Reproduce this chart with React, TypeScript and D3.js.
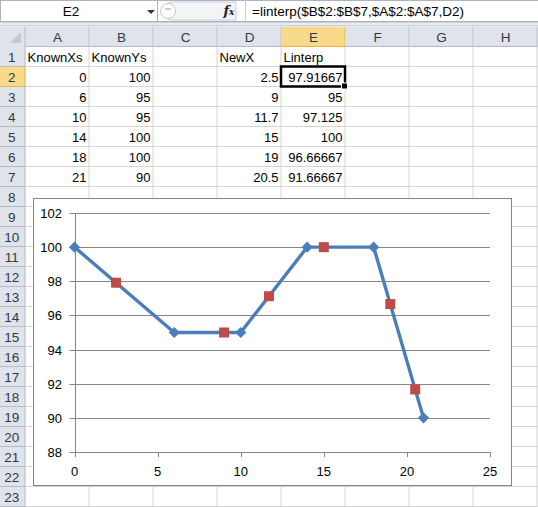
import * as React from 'react';
import * as d3 from 'd3';

const knownXs = [0, 6, 10, 14, 18, 21];
const knownYs = [100, 95, 95, 100, 100, 90];
const newXs = [2.5, 9, 11.7, 15, 19, 20.5];
const linterp = ['97.91667', '95', '97.125', '100', '96.66667', '91.66667'];

const colNames = ['A', 'B', 'C', 'D', 'E', 'F', 'G', 'H'];
const rowCount = 23;
const headerRow = ['KnownXs', 'KnownYs', '', 'NewX', 'Linterp'];
const yTicks = [88, 90, 92, 94, 96, 98, 100, 102];
const xTicks = [0, 5, 10, 15, 20, 25];

const W = 538;
const H = 507;
const FONT = '"Liberation Sans", Arial, sans-serif';

// sheet geometry
const rowHdrW = 25.5;
const colW = 64;
const colTop = 27;
const rowTop = 47;
const rowH = 20;

const colX = d3.scaleLinear().domain([0, colNames.length]).range([rowHdrW, rowHdrW + colW * colNames.length]);
const rowY = (r: number) => rowTop + (r - 1) * rowH;

// chart geometry
const chartBox = {x: 33.5, y: 198.5, w: 478, h: 287};
const x = d3.scaleLinear().domain([0, 25]).range([74.5, 490]);
const y = d3.scaleLinear().domain([88, 102]).range([452, 213]);

const gridCol = '#d4d4d4';
const hdrFill = '#e0e4ea';
const hdrLine = '#b6bcc6';
const selFill = '#f9da8a';
const selLine = '#e9b44c';
const hdrText = '#2a3a4a';

export default function App() {
  const blue = '#4a7ebb';
  const red = '#be4b48';
  const line = d3.line<number>().x((_, i) => x(knownXs[i])).y(d => y(d));
  const newYs = linterp.map(Number);

  const cells: {c: number, r: number, t: string, left?: boolean}[] = [];
  headerRow.forEach((t, c) => t && cells.push({c, r: 1, t, left: true}));
  knownXs.forEach((v, i) => cells.push({c: 0, r: i + 2, t: String(v)}));
  knownYs.forEach((v, i) => cells.push({c: 1, r: i + 2, t: String(v)}));
  newXs.forEach((v, i) => cells.push({c: 3, r: i + 2, t: String(v)}));
  linterp.forEach((v, i) => cells.push({c: 4, r: i + 2, t: v}));

  const rows = d3.range(1, rowCount + 1);

  return (
    <svg width={W} height={H} style={{position: 'absolute', left: 0, top: 0, background: '#fff'}}
         fontFamily={FONT}>
      {/* formula bar */}
      <rect x={0} y={0} width={W} height={27} fill="#e9edf2"/>
      <rect x={0.5} y={0.5} width={W} height={21} fill="#fff" stroke="#aab3bf"/>
      <line x1={157.5} x2={157.5} y1={0} y2={21} stroke="#aab3bf"/>
      <text x={71} y={15.5} fontSize={13.5} textAnchor="middle" fill="#000">E2</text>
      <path d="M147,10 L155,10 L151,14 Z" fill="#333"/>
      <path d="M172,2 L236,2 L236,20 L172,20 A9,9 0 0 1 172,2 Z" fill="#f3f4f6" stroke="#c8ccd2"/>
      <circle cx={168} cy={11} r={7.5} fill="#fff" stroke="#c8ccd2"/>
      <rect x={165} y={8} width={6} height={2} fill="#c8ccd2"/>
      <text x={229} y={15} fontSize={13} fontStyle="italic" fontWeight="bold"
            fontFamily='"DejaVu Serif", serif' textAnchor="middle" fill="#222">f<tspan fontSize={9}>x</tspan></text>
      <line x1={245.5} x2={245.5} y1={0} y2={21} stroke="#c8ccd2"/>
      <text x={252} y={15.5} fontSize={13.5} fill="#000">=linterp($B$2:$B$7,$A$2:$A$7,D2)</text>
      <line x1={0} x2={W} y1={22.5} y2={22.5} stroke="#c9cfd7"/>
      <line x1={0} x2={W} y1={25.5} y2={25.5} stroke="#c9cfd7"/>

      {/* grid */}
      {rows.map(r => (
        <line key={'h' + r} x1={rowHdrW} x2={W} y1={rowY(r) + rowH - 0.5} y2={rowY(r) + rowH - 0.5} stroke={gridCol}/>
      ))}
      {colNames.map((_, c) => (
        <line key={'v' + c} x1={colX(c + 1) - 0.5} x2={colX(c + 1) - 0.5} y1={rowTop} y2={H} stroke={gridCol}/>
      ))}

      {/* column headers */}
      {colNames.map((n, c) => {
        const sel = n === 'E';
        return (
          <g key={n}>
            <rect x={colX(c)} y={colTop} width={colW} height={rowH} fill={sel ? selFill : hdrFill}/>
            <line x1={colX(c + 1) - 0.5} x2={colX(c + 1) - 0.5} y1={colTop} y2={colTop + rowH} stroke={sel ? selLine : hdrLine}/>
            <line x1={colX(c)} x2={colX(c + 1)} y1={colTop + rowH - 0.5} y2={colTop + rowH - 0.5} stroke={sel ? selLine : hdrLine}/>
            <text x={colX(c) + colW / 2} y={colTop + 15} fontSize={13.5} textAnchor="middle" fill={hdrText}>{n}</text>
          </g>
        );
      })}
      <rect x={0} y={colTop} width={rowHdrW} height={rowH} fill={hdrFill}/>
      <path d="M21,43 L21,32 L10,43 Z" fill="#c3c8cf"/>
      <line x1={rowHdrW - 0.5} x2={rowHdrW - 0.5} y1={colTop} y2={colTop + rowH} stroke={hdrLine}/>

      {/* row headers */}
      {rows.map(r => {
        const sel = r === 2;
        return (
          <g key={'r' + r}>
            <rect x={0} y={rowY(r)} width={rowHdrW} height={rowH} fill={sel ? selFill : hdrFill}/>
            <line x1={0} x2={rowHdrW} y1={rowY(r) + rowH - 0.5} y2={rowY(r) + rowH - 0.5} stroke={sel ? selLine : hdrLine}/>
            <line x1={rowHdrW - 0.5} x2={rowHdrW - 0.5} y1={rowY(r)} y2={rowY(r) + rowH} stroke={sel ? selLine : hdrLine}/>
            <text x={rowHdrW / 2 - 1} y={rowY(r) + 15} fontSize={13.5} textAnchor="middle" fill={hdrText}>{r}</text>
          </g>
        );
      })}

      {/* cell values */}
      {cells.map((d, i) => (
        <text key={'c' + i} x={d.left ? colX(d.c) + 2 : colX(d.c + 1) - 3} y={rowY(d.r) + 15}
              fontSize={13} textAnchor={d.left ? 'start' : 'end'} fill="#000">{d.t}</text>
      ))}

      {/* selected cell */}
      <rect x={colX(4) - 0.5} y={rowY(2) - 0.5} width={colW} height={rowH} fill="none" stroke="#000" strokeWidth={2.5}/>
      <rect x={colX(5) - 4} y={rowY(3) - 4} width={6} height={6} fill="#000" stroke="#fff" strokeWidth={1}/>

      {/* chart */}
      <rect x={chartBox.x} y={chartBox.y} width={chartBox.w} height={chartBox.h} fill="#fff" stroke="#868686"/>
      {yTicks.map(t => (
        <g key={'yt' + t}>
          <line x1={x(0) - 5} x2={x(25)} y1={Math.round(y(t)) + 0.5} y2={Math.round(y(t)) + 0.5} stroke="#868686"/>
          <text x={62} y={y(t) + 5} fontSize={13} textAnchor="end" fill="#000">{t}</text>
        </g>
      ))}
      <line x1={Math.round(x(0)) + 0.5} x2={Math.round(x(0)) + 0.5} y1={y(102)} y2={y(88)} stroke="#868686"/>
      {xTicks.map(t => (
        <g key={'xt' + t}>
          <line x1={Math.round(x(t)) + 0.5} x2={Math.round(x(t)) + 0.5} y1={y(88)} y2={y(88) + 5} stroke="#868686"/>
          <text x={x(t)} y={y(88) + 24} fontSize={13} textAnchor="middle" fill="#000">{t}</text>
        </g>
      ))}
      <path d={line(knownYs) || ''} fill="none" stroke={blue} strokeWidth={3.4} strokeLinejoin="round"/>
      {knownYs.map((v, i) => (
        <path key={'d' + i} d={d3.symbol(d3.symbolDiamond2, 80)() || ''}
              transform={`translate(${x(knownXs[i])},${y(v)})`} fill={blue}/>
      ))}
      {newYs.map((v, i) => (
        <rect key={'s' + i} x={x(newXs[i]) - 5} y={y(v) - 5} width={10} height={10} fill={red}/>
      ))}
    </svg>
  );
}
